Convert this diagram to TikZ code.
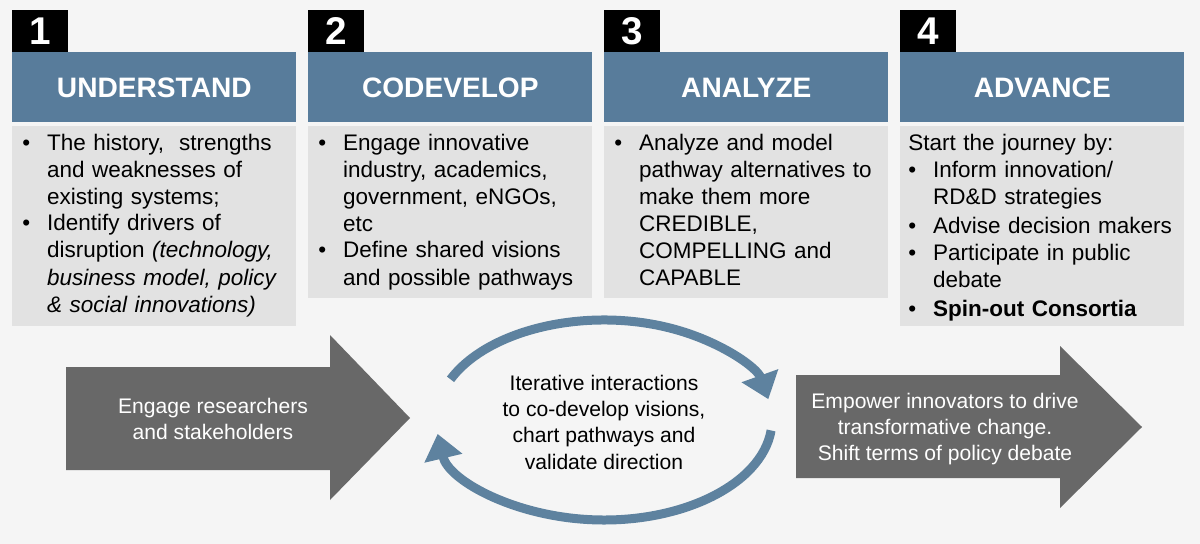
\documentclass[tikz,border=0pt]{standalone}
\usepackage{fontspec}
\setmainfont{Liberation Sans}
\usetikzlibrary{arrows.meta,shapes.arrows}
\hyphenpenalty=10000
\exhyphenpenalty=10000
\definecolor{hdr}{HTML}{587C9B}
\definecolor{bod}{HTML}{E2E2E2}
\definecolor{arr}{HTML}{686868}
\definecolor{ring}{HTML}{5E829F}
\newcommand{\itm}[1]{\makebox[1.1em][l]{•}\parbox[t]{\dimexpr\linewidth-1.1em}{\raggedright\hyphenpenalty=10000 #1\strut}\par}
\begin{document}
\begin{tikzpicture}[x=0.02cm,y=-0.02cm,
 numbox/.style={fill=black,text=white,font=\fontsize{22}{22}\selectfont\bfseries,minimum width=1.12cm,minimum height=0.84cm,anchor=north west,inner sep=0},
 hdrbox/.style={fill=hdr,text=white,font=\fontsize{16}{16}\selectfont\bfseries,minimum width=5.68cm,minimum height=1.4cm,anchor=north west,inner sep=0},
 bodybox/.style={fill=bod,anchor=north west,inner sep=0,minimum width=5.68cm},
 btxt/.style={anchor=north west,align=left,font=\fontsize{12.8}{15.4}\selectfont,text width=5.5cm,inner sep=0},
 arrtxt/.style={text=white,font=\fontsize{12}{15}\selectfont,align=center}]
\fill[white!96!black] (0,0) rectangle (1200,544);
\useasboundingbox (0,0) rectangle (1200,544);
\foreach \x/\n/\t/\h in {12/1/UNDERSTAND/200,308/2/CODEVELOP/172,604/3/ANALYZE/172,900/4/ADVANCE/200}{
 \node[bodybox,minimum height=\h*0.02cm] (b\n) at (\x,126) {};
 \node[hdrbox] (h\n) at (\x,52) {\raisebox{-3pt}{\t}};
 \node[numbox] (n\n) at (\x,10) {\n};
}
\node[btxt] (t1) at (22,134) {\itm{The history,\ \ strengths and weaknesses of existing systems;}
\itm{Identify drivers of disruption \textit{(technology, business model, policy \& social innovations)}}};
\node[btxt,text width=5.3cm] (t2) at (318,134) {\itm{Engage innovative industry, academics, government, eNGOs, etc}
\itm{Define shared visions and possible pathways}};
\node[btxt,text width=5.4cm] (t3) at (614,134) {\itm{Analyze and model pathway alternatives to make them more CREDIBLE, COMPELLING and CAPABLE}};
\node[btxt,text width=5.6cm] (t4) at (908,134) {Start the journey by:\par
\itm{Inform innovation/\\RD\&D strategies}
\itm{Advise decision makers}
\itm{Participate in public debate}
\itm{\textbf{Spin-out Consortia}}};
% arrows
\fill[arr] (66,367) -- (330,367) -- (330,335) -- (410,418) -- (330,500) -- (330,470) -- (66,470) -- cycle;
\node[arrtxt] (a1) at (213,419) {Engage researchers\\and stakeholders};
\fill[arr] (796,375) -- (1060,375) -- (1060,346) -- (1142,427) -- (1060,508) -- (1060,478) -- (796,478) -- cycle;
\node[arrtxt] (a2) at (945,429) {Empower innovators to drive\\transformative change.\\Shift terms of policy debate};
% ring
\coordinate (cc) at (604,420);
\draw[ring,line width=0.18cm,-{Triangle[length=0.5cm,width=0.75cm]}] (cc) ++(204:168 and 100) arc[start angle=204,end angle=348,x radius=168,y radius=100];
\draw[ring,line width=0.18cm,-{Triangle[length=0.5cm,width=0.75cm]}] (cc) ++(6:168 and 100) arc[start angle=6,end angle=172,x radius=168,y radius=100];
\node[font=\fontsize{12}{15}\selectfont,align=center] (c) at (604,422) {Iterative interactions\\to co-develop visions,\\chart pathways and\\validate direction};
\end{tikzpicture}
\end{document}
